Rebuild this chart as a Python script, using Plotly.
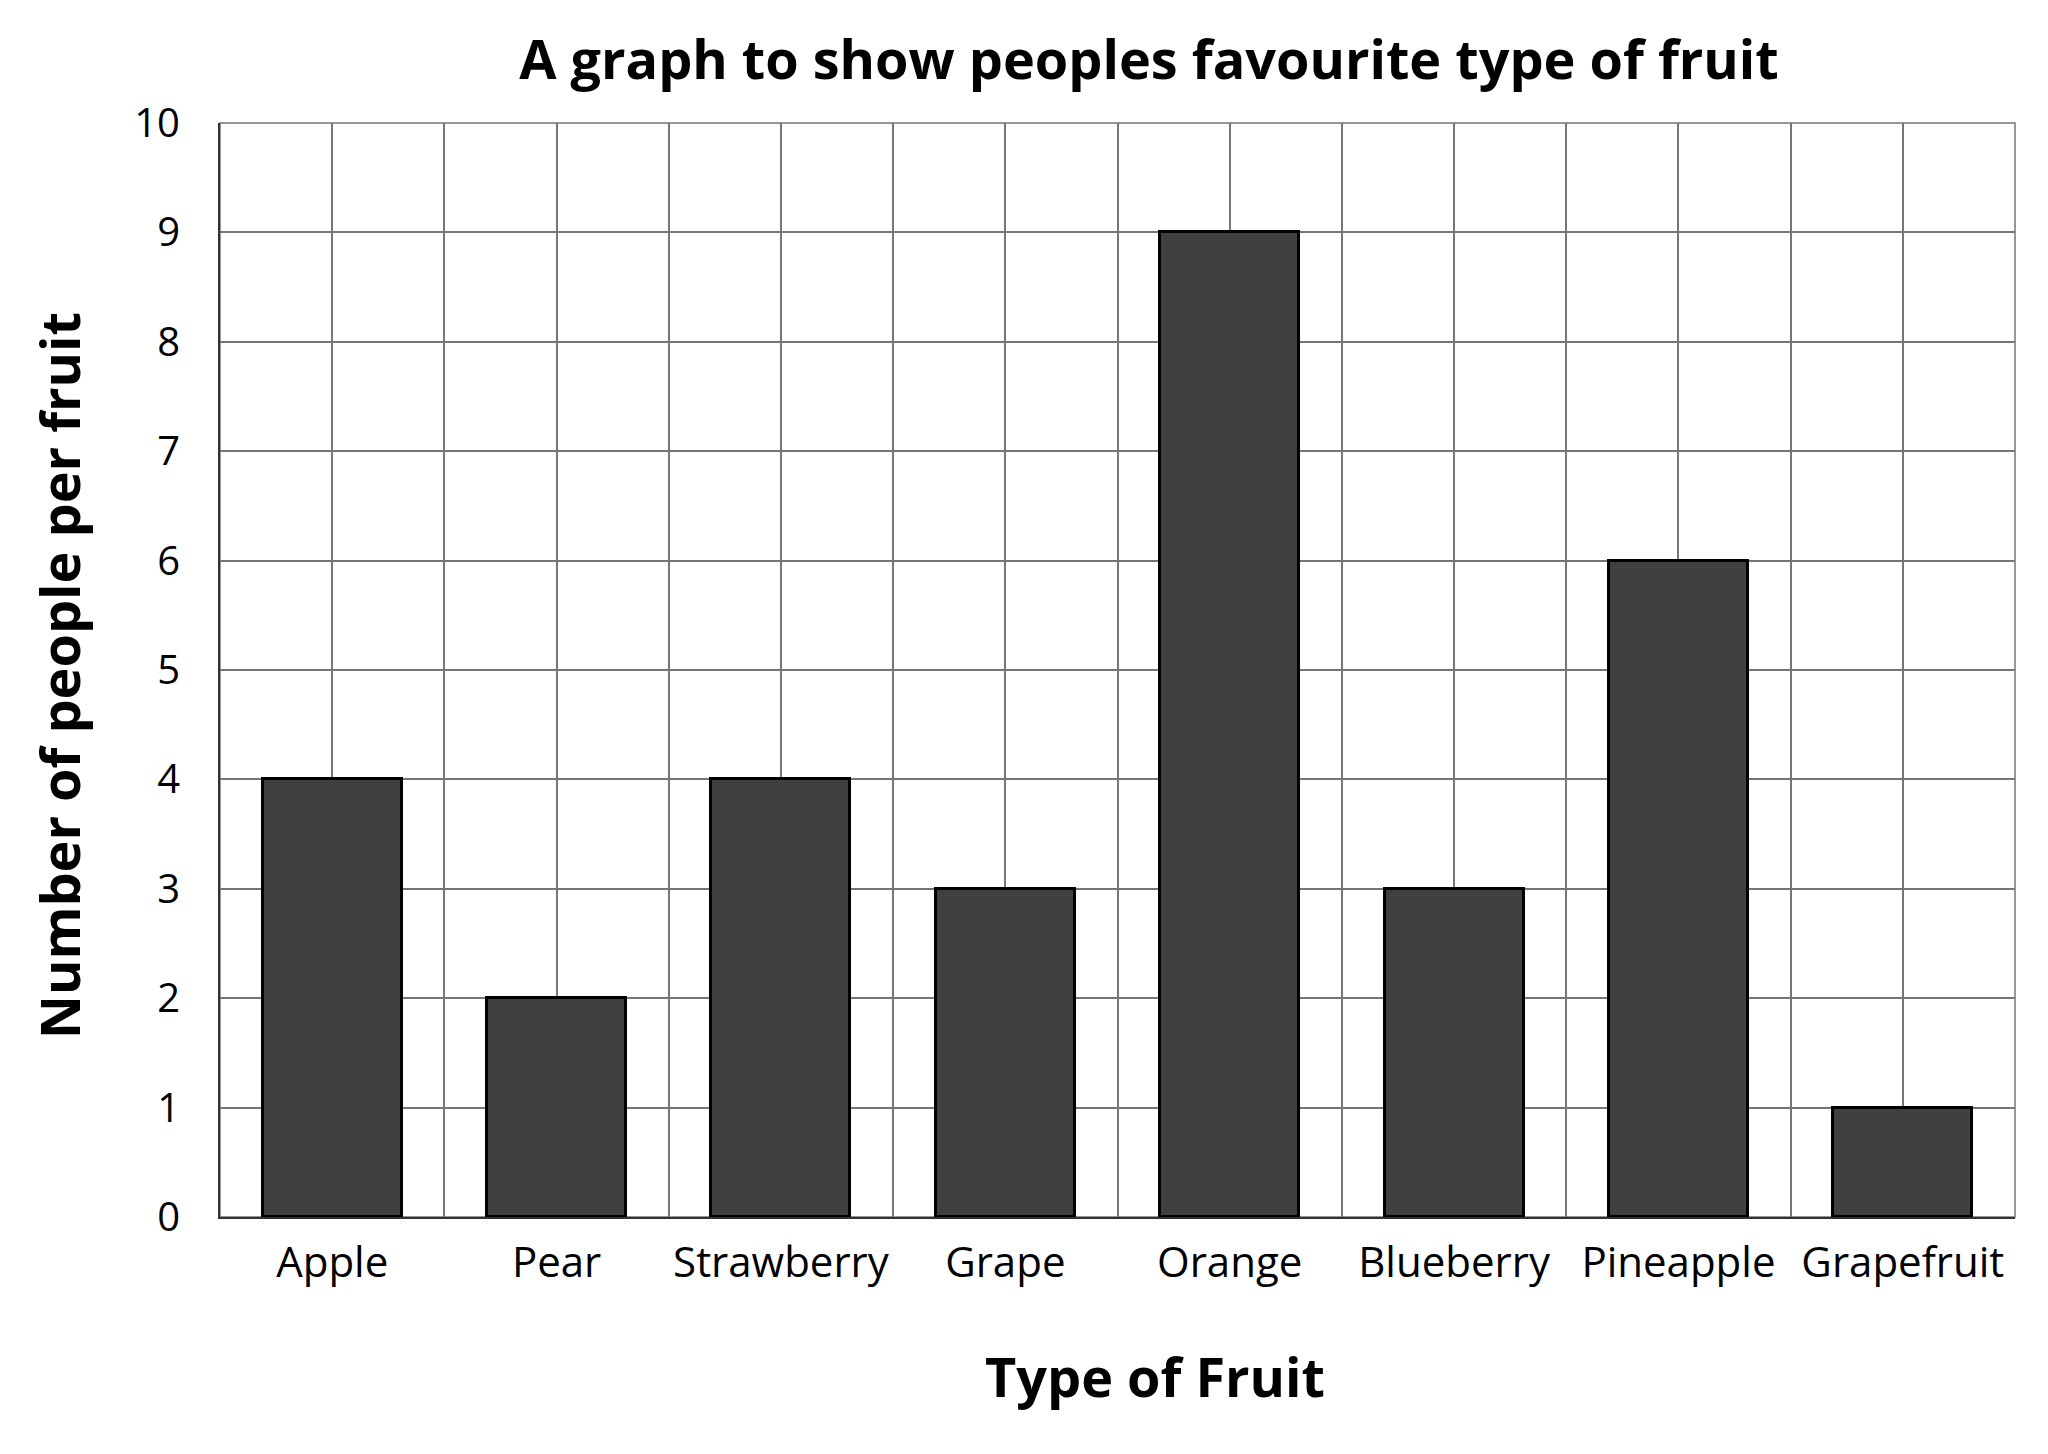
import plotly.graph_objects as go

fruits = ["Apple", "Pear", "Strawberry", "Grape", "Orange", "Blueberry", "Pineapple", "Grapefruit"]
people = [4, 2, 4, 3, 9, 3, 6, 1]
y_ticks = list(range(0, 11))

positions = list(range(len(fruits)))
font_family = "Open Sans"
grid_col = "#767676"

# the page body adds 8px around the figure, so the figure is 16px smaller than the window
W, H = 2032, 1436
left, right_edge, top, bottom_edge = 212, 2007, 115, 1209
pw, ph = right_edge - left, bottom_edge - top

fig = go.Figure()
fig.add_trace(
    go.Bar(
        x=positions,
        y=people,
        width=0.62,
        marker=dict(color="#404040", line=dict(color="#000000", width=3)),
        showlegend=False,
    )
)

fig.update_layout(
    width=W,
    height=H,
    margin=dict(l=left, r=W - right_edge, t=top, b=H - bottom_edge),
    paper_bgcolor="white",
    plot_bgcolor="white",
    font=dict(family=font_family, color="black", size=42),
    title=dict(
        text="<b>A graph to show peoples favourite type of fruit</b>",
        x=(1141 - left) / pw,
        xref="paper",
        xanchor="center",
        y=1 - 52 / H,
        yref="container",
        yanchor="middle",
        font=dict(size=54, family=font_family, color="black"),
    ),
    xaxis=dict(
        range=[-0.5, len(fruits) - 0.5],
        tickmode="array",
        tickvals=positions,
        ticktext=fruits,
        showgrid=True,
        gridcolor=grid_col,
        gridwidth=1.5,
        minor=dict(tick0=0.5, dtick=1, showgrid=True, gridcolor=grid_col, gridwidth=1.5),
        showline=True,
        linecolor="#333333",
        linewidth=2,
        zeroline=False,
        ticks="",
        ticklabelstandoff=8,
        tickfont=dict(size=42),
    ),
    yaxis=dict(
        range=[0, 10],
        tickmode="array",
        tickvals=y_ticks,
        showgrid=True,
        gridcolor=grid_col,
        gridwidth=1.5,
        showline=True,
        linecolor="#333333",
        linewidth=2,
        zeroline=False,
        ticks="",
        ticklabelstandoff=30,
        tickfont=dict(size=40),
    ),
    bargap=0,
)

# grey frame on top and right like the original chart border
fig.add_shape(
    type="rect",
    xref="paper",
    yref="paper",
    x0=0,
    x1=1,
    y0=0,
    y1=1,
    line=dict(color=grid_col, width=1.5),
    layer="below",
)

fig.add_annotation(
    text="<b>Type of Fruit</b>",
    x=(1147 - left) / pw,
    y=-(1368 - bottom_edge) / ph,
    xref="paper",
    yref="paper",
    xanchor="center",
    yanchor="middle",
    showarrow=False,
    font=dict(size=54, family=font_family, color="black"),
)
fig.add_annotation(
    text="<b>Number of people per fruit</b>",
    x=-(left - 51) / pw,
    y=(bottom_edge - 668) / ph,
    xref="paper",
    yref="paper",
    xanchor="center",
    yanchor="middle",
    textangle=-90,
    showarrow=False,
    font=dict(size=54, family=font_family, color="black"),
)

fig.write_html("out.html")
